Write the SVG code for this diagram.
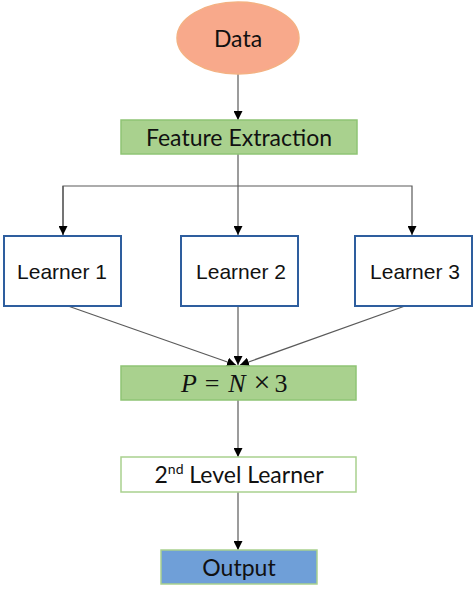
<svg xmlns="http://www.w3.org/2000/svg" width="474" height="604" viewBox="0 0 474 604">
<style>
.c{fill:none;stroke:#5a5a5a;stroke-width:1.2}
.cal{font-family:Lato,"Open Sans","Noto Sans",sans-serif;font-size:23px;fill:#111;text-anchor:middle}
.ar{font-family:"Liberation Sans",Arial,sans-serif;font-size:21px;fill:#111;text-anchor:middle}
.mth{font-family:"Liberation Serif","DejaVu Serif",serif;font-size:26px;fill:#111;text-anchor:middle}
.lrn{fill:#fff;stroke:#2e5e9e;stroke-width:2}
.grn{fill:#a9d18e;stroke:#8fc474;stroke-width:1.5}
</style>
<defs>
<marker id="ah" viewBox="0 0 10 10" refX="10" refY="5" markerWidth="9" markerHeight="9" markerUnits="userSpaceOnUse" orient="auto">
<path d="M0,0 L10,5 L0,10 z" fill="#000"/>
</marker>
</defs>
<rect width="474" height="604" fill="#fff"/>
<g id="connectors">
<line class="c" x1="238" y1="74" x2="238" y2="120" marker-end="url(#ah)"/>
<line class="c" x1="238" y1="154" x2="238" y2="186"/>
<polyline class="c" points="63,235 63,186 412,186 412,235" marker-end="url(#ah)"/>
<line class="c" x1="63" y1="186" x2="63" y2="235" marker-end="url(#ah)"/>
<line class="c" x1="238" y1="186" x2="238" y2="235" marker-end="url(#ah)"/>
<line class="c" x1="68" y1="306" x2="236" y2="365" marker-end="url(#ah)"/>
<line class="c" x1="238" y1="306" x2="238" y2="365" marker-end="url(#ah)"/>
<line class="c" x1="405" y1="306" x2="240" y2="365" marker-end="url(#ah)"/>
<line class="c" x1="238" y1="400" x2="238" y2="457" marker-end="url(#ah)"/>
<line class="c" x1="238" y1="492" x2="238" y2="550" marker-end="url(#ah)"/>
</g>
<g id="data">
<ellipse cx="238" cy="38" rx="61" ry="36" fill="#f8a98b" stroke="#f4b183" stroke-width="1.5"/>
<text class="cal" x="238" y="47">Data</text>
</g>
<g id="feature">
<rect class="grn" x="121" y="120" width="236" height="34"/>
<text class="cal" x="239" y="146">Feature Extraction</text>
</g>
<g id="learner1">
<rect class="lrn" x="4" y="236" width="117" height="70"/>
<text class="ar" x="62" y="279">Learner 1</text>
</g>
<g id="learner2">
<rect class="lrn" x="181" y="236" width="117" height="70"/>
<text class="ar" x="241" y="279">Learner 2</text>
</g>
<g id="learner3">
<rect class="lrn" x="355" y="236" width="117" height="70"/>
<text class="ar" x="415" y="279">Learner 3</text>
</g>
<g id="formula">
<rect class="grn" x="121" y="366" width="235" height="34"/>
<text class="mth" y="392"><tspan x="189" font-style="italic">P</tspan><tspan x="212">=</tspan><tspan x="237" font-style="italic">N</tspan><tspan x="262" font-size="30">×</tspan><tspan x="281">3</tspan></text>
</g>
<g id="level2">
<rect x="121" y="457" width="235" height="35" fill="#fff" stroke="#a9d18e" stroke-width="1.5"/>
<text class="cal" x="239" y="483">2<tspan font-size="14" dy="-9">nd</tspan><tspan dy="9"> Level Learner</tspan></text>
</g>
<g id="output">
<rect x="161" y="550" width="156" height="34" fill="#6f9fd8" stroke="#a9d18e" stroke-width="1.5"/>
<text class="cal" x="239" y="576">Output</text>
</g>
</svg>
